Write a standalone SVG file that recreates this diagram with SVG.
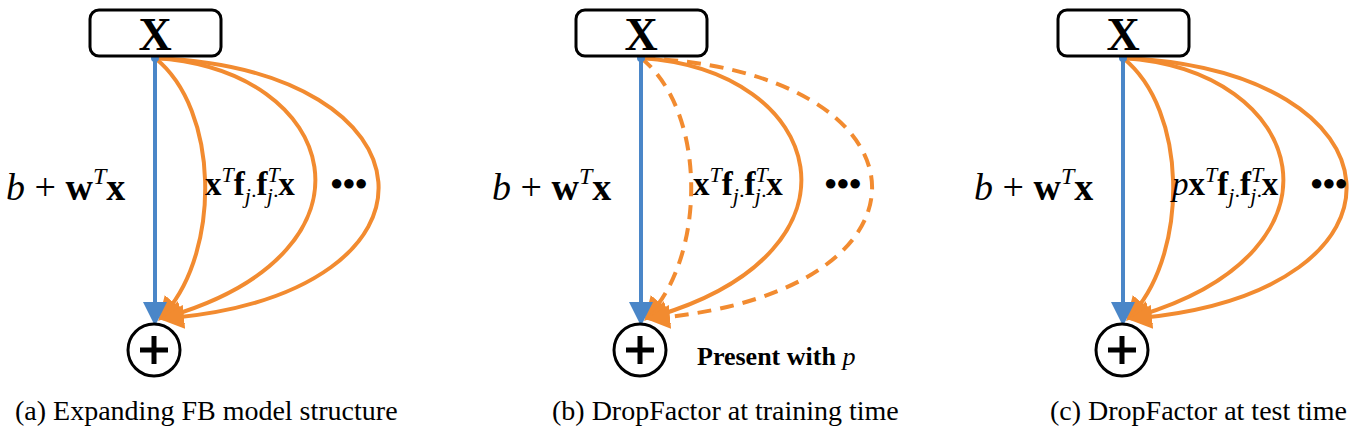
<svg xmlns="http://www.w3.org/2000/svg" width="1356" height="431" viewBox="0 0 1356 431">
<style>
.box{fill:#fff;stroke:#000;stroke-width:3}
.sum{fill:#fff;stroke:#000;stroke-width:3}
.blue{stroke:#4a86c8;stroke-width:4;fill:none}
.or{stroke:#f28b30;stroke-width:4;fill:none}
.dash{stroke-dasharray:14 9}
text{font-family:"Liberation Serif","Times New Roman",serif;fill:#000}
.X{font-size:46px;font-weight:bold}
.m{font-size:38px}
.cap{font-size:28px}
.lab{font-size:33px}
.sb{font-size:22px;font-style:italic}
.dots{font-size:22px;font-weight:bold;letter-spacing:-1px}
</style>
<defs>
<marker id="ab" markerWidth="6" markerHeight="6" refX="3" refY="3" orient="auto" markerUnits="strokeWidth"><path d="M0,0L6,3L0,6z" fill="#4a86c8"/></marker>
<marker id="ao" markerWidth="6" markerHeight="6" refX="3" refY="3" orient="auto" markerUnits="strokeWidth"><path d="M0,0L6,3L0,6z" fill="#f28b30"/></marker>
<g id="panel">
<g class="conn">
<line class="blue" x1="155" y1="58" x2="155" y2="314" marker-end="url(#ab)"/>
<circle cx="155" cy="58" r="4" fill="#4a86c8"/>
</g>
<g class="node"><rect class="box" x="90" y="10" width="131" height="46" rx="9"/><text class="X" x="155" y="50" text-anchor="middle">X</text></g>
<g class="node"><circle class="sum" cx="154" cy="350" r="26"/><path d="M140,350H168M154,336V364" stroke="#000" stroke-width="5"/></g>
<text class="m" x="6" y="200"><tspan font-style="italic">b</tspan> + <tspan font-weight="bold">w</tspan><tspan font-size="24" dy="-16" font-style="italic">T</tspan><tspan dy="16" font-weight="bold">x</tspan></text>
</g>
</defs>

<g id="panelA">
<g id="connA">
<path class="or" d="M155,58 C220,110 220,250 166,312" marker-end="url(#ao)"/>
<path class="or" d="M155,58 C340,70 390,250 170,316" marker-end="url(#ao)"/>
<path class="or" d="M155,58 C440,70 460,290 172,318" marker-end="url(#ao)"/>
</g>
<use href="#panel"/>
<text class="lab" x="205" y="195"><tspan font-weight="bold">x</tspan><tspan class="sb" dy="-13">T</tspan><tspan dy="13" font-weight="bold">f</tspan><tspan class="sb" dy="8">j·</tspan><tspan dy="-8" font-weight="bold">f</tspan><tspan class="sb" dy="-13">T</tspan><tspan class="sb" dx="-13" dy="21">j·</tspan><tspan dy="-8" font-weight="bold">x</tspan></text>
<text class="dots" x="330" y="190">●●●</text>
<text class="cap" x="15" y="420">(a)  Expanding FB model structure</text>
</g>

<g id="panelB" transform="translate(486,0)">
<g id="connB">
<path class="or dash" d="M155,58 C220,110 220,250 166,312" marker-end="url(#ao)"/>
<path class="or" d="M155,58 C340,70 390,250 170,316" marker-end="url(#ao)"/>
<path class="or dash" d="M155,58 C450,70 470,290 172,318" marker-end="url(#ao)"/>
</g>
<use href="#panel"/>
<text class="lab" x="207" y="195"><tspan font-weight="bold">x</tspan><tspan class="sb" dy="-13">T</tspan><tspan dy="13" font-weight="bold">f</tspan><tspan class="sb" dy="8">j·</tspan><tspan dy="-8" font-weight="bold">f</tspan><tspan class="sb" dy="-13">T</tspan><tspan class="sb" dx="-13" dy="21">j·</tspan><tspan dy="-8" font-weight="bold">x</tspan></text>
<text class="dots" x="338" y="190">●●●</text>
<text x="211" y="365" font-size="26" font-weight="bold">Present with <tspan font-style="italic" font-weight="normal">p</tspan></text>
<text class="cap" x="66" y="420">(b)  DropFactor at training time</text>
</g>

<g id="panelC" transform="translate(968,0)">
<g id="connC">
<path class="or" d="M155,58 C220,110 220,250 166,312" marker-end="url(#ao)"/>
<path class="or" d="M155,58 C340,70 390,250 170,316" marker-end="url(#ao)"/>
<path class="or" d="M155,58 C440,70 460,290 172,318" marker-end="url(#ao)"/>
</g>
<use href="#panel"/>
<text class="lab" x="204" y="195"><tspan font-style="italic">p</tspan><tspan font-weight="bold">x</tspan><tspan class="sb" dy="-13">T</tspan><tspan dy="13" font-weight="bold">f</tspan><tspan class="sb" dy="8">j·</tspan><tspan dy="-8" font-weight="bold">f</tspan><tspan class="sb" dy="-13">T</tspan><tspan class="sb" dx="-13" dy="21">j·</tspan><tspan dy="-8" font-weight="bold">x</tspan></text>
<text class="dots" x="342" y="190">●●●</text>
<text class="cap" x="82" y="420">(c)  DropFactor at test time</text>
</g>
</svg>
